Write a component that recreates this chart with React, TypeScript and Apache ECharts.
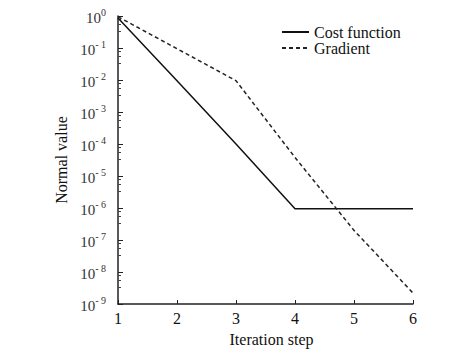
import React, { useEffect, useRef } from "react";
import * as echarts from "echarts";

const steps = [1, 2, 3, 4, 5, 6];
const costFunction = [0.87, 0.0095, 1.0e-4, 9.5e-7, 9.5e-7, 9.5e-7];
const gradient = [0.95, 0.095, 0.0095, 3.8e-5, 2.0e-7, 2.2e-9];
const xTicks = [1, 2, 3, 4, 5, 6];
const seriesNames = ["Cost function", "Gradient"];

const FONT = "'Liberation Serif', 'DejaVu Serif', serif";

export default function App() {
  const ref = useRef<HTMLDivElement>(null);
  useEffect(() => {
    if (!ref.current) return;
    const chart = echarts.init(ref.current, undefined, { renderer: "svg" });
    chart.setOption({
      animation: false,
      backgroundColor: "#ffffff",
      textStyle: { fontFamily: FONT },
      grid: { left: 118, right: 61, top: 16, bottom: 47, outerBoundsMode: "none", containLabel: false },
      legend: {
        left: 276,
        top: 19,
        orient: "vertical",
        itemWidth: 27,
        itemHeight: 10,
        itemGap: 0,
        data: seriesNames,
        itemStyle: { opacity: 0 },
        textStyle: { fontFamily: FONT, fontSize: 16, color: "#111", lineHeight: 16 },
      },
      xAxis: {
        type: "value",
        min: xTicks[0],
        max: xTicks[xTicks.length - 1],
        interval: 1,
        name: "Iteration step",
        nameLocation: "middle",
        nameGap: 27,
        nameTextStyle: { fontFamily: FONT, fontSize: 16, color: "#111", padding: [0, 0, 0, 12] },
        axisLine: { lineStyle: { color: "#222", width: 1.5 } },
        axisTick: { inside: true, length: 4, lineStyle: { color: "#222" } },
        axisLabel: { fontFamily: FONT, fontSize: 16, color: "#111", margin: 6 },
        splitLine: { show: false },
      },
      yAxis: {
        type: "log",
        logBase: 10,
        min: 1e-9,
        max: 1,
        name: "Normal value",
        nameLocation: "middle",
        nameGap: 48,
        nameTextStyle: { fontFamily: FONT, fontSize: 16, color: "#111" },
        axisLine: { show: true, lineStyle: { color: "#222", width: 1.5 } },
        axisTick: { show: true, inside: true, length: 5, lineStyle: { color: "#222" } },
        minorTick: { show: true, splitNumber: 4, length: 3, lineStyle: { color: "#444" } },
        splitLine: { show: false },
        axisLabel: {
          margin: 12,
          formatter: (v: number) => {
            const e = Math.round(Math.log10(v));
            return "{b|10}{s|" + (e === 0 ? "0" : "- " + Math.abs(e)) + "}";
          },
          rich: {
            b: { fontFamily: FONT, fontSize: 15, color: "#333", verticalAlign: "bottom", lineHeight: 18 },
            s: { fontFamily: FONT, fontSize: 10, color: "#333", verticalAlign: "top", lineHeight: 18 },
          },
        },
      },
      series: [
        {
          name: seriesNames[0],
          type: "line",
          symbol: "none",
          data: steps.map((s, i) => [s, costFunction[i]]),
          lineStyle: { color: "#111", width: 1.5, type: "solid" },
          itemStyle: { color: "#111" },
        },
        {
          name: seriesNames[1],
          type: "line",
          symbol: "none",
          data: steps.map((s, i) => [s, gradient[i]]),
          lineStyle: { color: "#222", width: 1.5, type: [4, 3] },
          itemStyle: { color: "#222" },
        },
      ],
    });
    return () => chart.dispose();
  }, []);
  return (
    <div
      ref={ref}
      style={{ position: "fixed", left: 0, top: 0, width: 474, height: 351 }}
    />
  );
}
